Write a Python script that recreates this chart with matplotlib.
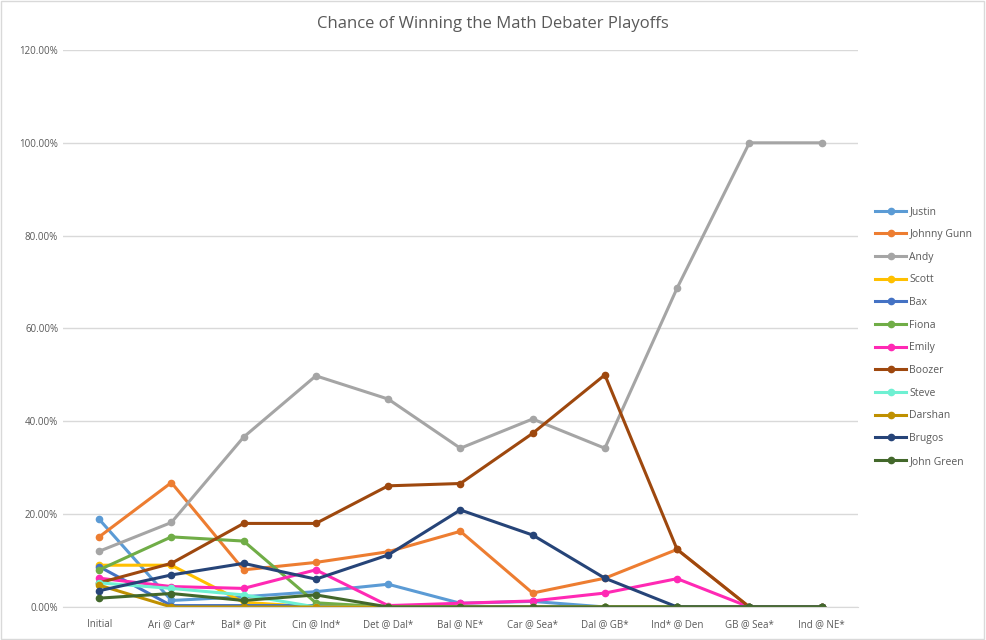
import matplotlib
matplotlib.use("Agg")
import matplotlib.pyplot as plt
from matplotlib.ticker import FuncFormatter

plt.rcParams['font.family'] = ['Open Sans', 'DejaVu Sans']

games = ["Initial", "Ari @ Car*", "Bal* @ Pit", "Cin @ Ind*", "Det @ Dal*", "Bal @ NE*",
         "Car @ Sea*", "Dal @ GB*", "Ind* @ Den", "GB @ Sea*", "Ind @ NE*"]

justin      = [18.9, 1.4, 2.2, 3.3, 4.9, 0.8, 1.2, 0, 0, 0, 0]
johnny_gunn = [15.1, 26.8, 8.0, 9.6, 11.9, 16.3, 3.0, 6.2, 12.4, 0, 0]
andy        = [12.0, 18.2, 36.6, 49.8, 44.8, 34.2, 40.5, 34.2, 68.7, 100, 100]
scott       = [9.0, 9.0, 1.0, 0, 0, 0, 0, 0, 0, 0, 0]
bax         = [8.7, 0.3, 0.3, 0.3, 0, 0, 0, 0, 0, 0, 0]
fiona       = [8.0, 15.1, 14.2, 0.9, 0, 0, 0, 0, 0, 0, 0]
emily       = [6.2, 4.4, 4.0, 8.0, 0.3, 0.8, 1.3, 3.0, 6.1, 0, 0]
boozer      = [5.2, 9.4, 18.0, 18.0, 26.1, 26.6, 37.4, 50.0, 12.4, 0, 0]
steve       = [5.2, 4.0, 2.6, 0, 0, 0, 0, 0, 0, 0, 0]
darshan     = [4.7, 0, 0, 0, 0, 0, 0, 0, 0, 0, 0]
brugos      = [3.5, 6.9, 9.4, 6.0, 11.2, 20.9, 15.5, 6.2, 0, 0, 0]
john_green  = [1.9, 2.9, 1.4, 2.6, 0, 0, 0, 0, 0, 0, 0]

names = ["Justin", "Johnny Gunn", "Andy", "Scott", "Bax", "Fiona", "Emily",
         "Boozer", "Steve", "Darshan", "Brugos", "John Green"]
series = [justin, johnny_gunn, andy, scott, bax, fiona, emily,
          boozer, steve, darshan, brugos, john_green]
colors = ["#5B9BD5", "#ED7D31", "#A5A5A5", "#FFC000", "#4472C4", "#70AD47",
          "#FF29B4", "#9E480E", "#6EF0D2", "#BF9000", "#264478", "#43682B"]

fig = plt.figure(figsize=(9.86, 6.4), dpi=100)
ax = fig.add_axes([0.0639, 0.0516, 0.806, 0.8703])

x = list(range(len(games)))
for name, vals, c in zip(names, series, colors):
    ax.plot(x, vals, color=c, lw=2.2, marker='o', ms=4.5, label=name, solid_joinstyle='round')

ax.set_xlim(-0.5, len(games) - 0.5)
ax.set_ylim(0, 120)
ax.set_yticks(range(0, 121, 20))
ax.yaxis.set_major_formatter(FuncFormatter(lambda v, p: "%.2f%%" % v))
ax.set_xticks(x)
ax.set_xticklabels(games)
ax.tick_params(axis='both', length=0, labelsize=7, labelcolor='#595959')
ax.tick_params(axis='x', pad=9)
ax.grid(axis='y', color='#D9D9D9', lw=1)
ax.set_axisbelow(True)
for s in ['top', 'right', 'left']:
    ax.spines[s].set_visible(False)
ax.spines['bottom'].set_color('#D9D9D9')

fig.suptitle("Chance of Winning the Math Debater Playoffs", y=0.975, fontsize=12,
             color='#595959')

leg = ax.legend(loc='center left', bbox_to_anchor=(1.01, 0.4856), frameon=False,
                fontsize=7.5, labelcolor='#595959', handlelength=3, handletextpad=0.3,
                labelspacing=1.12)

# thin border round the chart
fig.patches.append(plt.Rectangle((0.001, 0.001), 0.997, 0.997, transform=fig.transFigure,
                                 fill=False, edgecolor='#D9D9D9', lw=1))

fig.savefig("out.png", dpi=100)
